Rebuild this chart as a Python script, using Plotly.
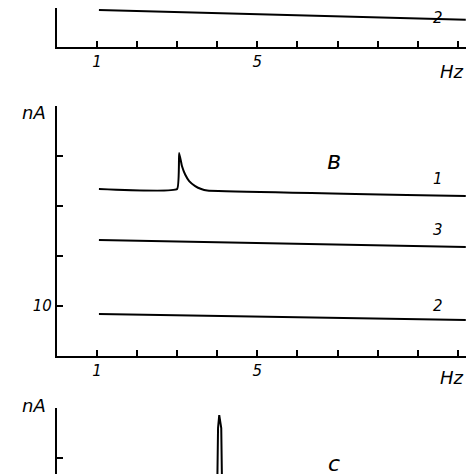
import plotly.graph_objects as go

# panel a (only the bottom visible)
a_x = [1.05, 10.2]
a_y2 = [7.6, 5.6]

# panel b
b_x1 = [1.05, 3.0, 3.05, 3.12, 3.2, 3.3, 3.45, 3.6, 3.75, 10.2]
b_y1 = [33.4, 33.4, 40.6, 38.0, 36.3, 35.0, 34.0, 33.4, 33.1, 32.0]
b_x3 = [1.05, 10.2]
b_y3 = [23.2, 21.8]
b_x2 = [1.05, 10.2]
b_y2 = [8.4, 7.2]

# panel c (only the top visible)
c_x1 = [4.0, 4.02, 4.05, 4.1, 4.12]
c_y1 = [34.0, 46.0, 48.6, 46.0, 34.0]

x_ticks = [1, 2, 3, 4, 5, 6, 7, 8, 9, 10]
x_text = ["1", "", "", "", "5", "", "", "", "", ""]

fnt = dict(family="DejaVu Sans", size=15, color="black", style="italic")
line = dict(color="black", width=2)

fig = go.Figure()
fig.add_trace(go.Scatter(x=a_x, y=a_y2, mode="lines", line=line, xaxis="x", yaxis="y"))
for xs, ys in [(b_x1, b_y1), (b_x3, b_y3), (b_x2, b_y2)]:
    fig.add_trace(go.Scatter(x=xs, y=ys, mode="lines", line=dict(line, shape="spline", smoothing=0.3),
                             xaxis="x2", yaxis="y2"))
fig.add_trace(go.Scatter(x=c_x1, y=c_y1, mode="lines", line=line, xaxis="x3", yaxis="y3"))

xax = dict(range=[0, 10.2], showgrid=False, zeroline=False, showline=True,
           linecolor="black", linewidth=2, ticks="inside", ticklen=6, tickwidth=2,
           tickcolor="black", tickvals=x_ticks, ticktext=x_text, tickfont=fnt,
           domain=[0.103, 0.966])
yax = dict(showgrid=False, zeroline=False, showline=True, linecolor="black",
           linewidth=2, ticks="inside", ticklen=6, tickwidth=2, tickcolor="black",
           tickvals=[10, 20, 30, 40, 50], ticktext=["10", "", "", "", ""], tickfont=fnt)

fig.update_layout(
    width=474, height=474, margin=dict(l=0, r=0, t=0, b=0),
    paper_bgcolor="white", plot_bgcolor="white", showlegend=False,
    xaxis=dict(xax, anchor="y"),
    xaxis2=dict(xax, anchor="y2"),
    xaxis3=dict(xax, anchor="y3", visible=False),
    yaxis=dict(yax, range=[0, 8], domain=[0.918, 1], anchor="x"),
    yaxis2=dict(yax, range=[0, 50], domain=[0.266, 0.793], anchor="x2"),
    yaxis3=dict(yax, range=[35.2, 50], domain=[0, 0.156], anchor="x3"),
)

ann = [
    ("x", "y", 9.5, 5.9, "2", 15),
    ("x2", "y2", 9.5, 35.5, "1", 15),
    ("x2", "y2", 9.5, 25.2, "3", 15),
    ("x2", "y2", 9.5, 10.0, "2", 15),
    ("x2", "y2", 6.9, 39.0, "в", 24),
    ("x3", "y3", 6.9, 39.0, "c", 22),
]
for xr, yr, x, y, t, s in ann:
    fig.add_annotation(x=x, y=y, xref=xr, yref=yr, text=t, showarrow=False, font=dict(fnt, size=s))

for yp in [0.892, 0.194]:
    fig.add_annotation(x=10.2, y=yp, xref="x", yref="paper", xanchor="right", text="Hz",
                       showarrow=False, font=dict(fnt, size=18))
for yp in [0.806, 0.135]:
    fig.add_annotation(x=0.025, y=yp, xref="paper", yref="paper", text="nA", showarrow=False,
                       font=dict(fnt, size=18))

fig.write_html("out.html")
